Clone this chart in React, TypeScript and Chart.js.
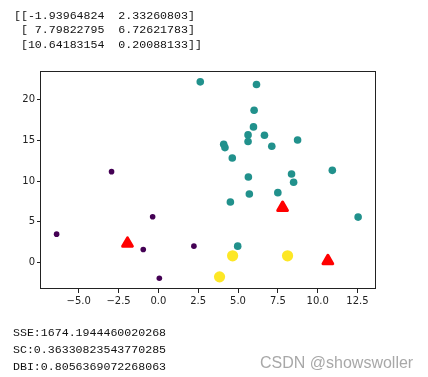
import React, { useEffect, useRef } from "react";
import { Chart, registerables } from "chart.js";

Chart.register(...registerables);

const centerLines = [
  "[[-1.93964824  2.33260803]",
  " [ 7.79822795  6.72621783]",
  " [10.64183154  0.20088133]]",
];
const metricLines = [
  "SSE:1674.1944460020268",
  "SC:0.36330823543770285",
  "DBI:0.8056369072268063",
];

const cluster0X = [-6.39, -2.94, -0.36, -0.95, 2.23, 0.06];
const cluster0Y = [3.48, 11.15, 5.61, 1.6, 2.01, -1.93];

const cluster1X = [2.63, 6.16, 6.01, 5.97, 5.63, 5.63, 6.66, 8.74, 4.1, 4.18, 7.12, 4.64, 5.65, 8.36, 8.49, 10.92, 7.5, 5.71, 4.52, 12.54, 4.98];
const cluster1Y = [22.17, 21.84, 18.69, 16.64, 15.66, 14.84, 15.61, 15.04, 14.51, 14.1, 14.26, 12.83, 10.49, 10.86, 9.84, 11.31, 8.57, 8.4, 7.42, 5.57, 2.01];

const cluster2X = [4.66, 8.11, 3.84];
const cluster2Y = [0.82, 0.82, -1.76];

const centroidX = [-1.93964824, 7.79822795, 10.64183154];
const centroidY = [2.33260803, 6.72621783, 0.20088133];

const xTicks = [-5, -2.5, 0, 2.5, 5, 7.5, 10, 12.5];
const yTicks = [0, 5, 10, 15, 20];

const pts = (xs: number[], ys: number[]) => xs.map((x, i) => ({ x, y: ys[i] }));

const framePlugin = {
  id: "frame",
  beforeDatasetsDraw(chart: any) {
    chart.ctx.lineJoin = "round";
  },
  afterDraw(chart: any) {
    const { ctx, chartArea } = chart;
    ctx.save();
    ctx.strokeStyle = "#222";
    ctx.lineWidth = 1;
    ctx.lineJoin = "miter";
    const l = Math.round(chartArea.left) - 0.5;
    const t = Math.round(chartArea.top) + 0.5;
    const r = Math.round(chartArea.right) + 0.5;
    const b = Math.round(chartArea.bottom) - 0.5;
    ctx.strokeRect(l, t, r - l, b - t);
    ctx.restore();
  },
};

export default function App() {
  const ref = useRef<HTMLCanvasElement | null>(null);
  useEffect(() => {
    if (!ref.current) return;
    const chart = new Chart(ref.current, {
      type: "scatter",
      data: {
        datasets: [
          {
            data: pts(centroidX, centroidY),
            pointStyle: "triangle",
            backgroundColor: "#ff0000",
            borderColor: "#ff0000",
            borderWidth: 3,
            pointRadius: 5.6,
            order: 0,
          },
          {
            data: pts(cluster0X, cluster0Y),
            backgroundColor: "#440154",
            borderColor: "#440154",
            borderWidth: 0,
            pointRadius: 2.8,
            order: 1,
          },
          {
            data: pts(cluster1X, cluster1Y),
            backgroundColor: "#21918c",
            borderColor: "#21918c",
            borderWidth: 0,
            pointRadius: 3.8,
            order: 1,
          },
          {
            data: pts(cluster2X, cluster2Y),
            backgroundColor: "#fde725",
            borderColor: "#fde725",
            borderWidth: 0,
            pointRadius: 5.6,
            order: 1,
          },
        ],
      },
      options: {
        animation: false,
        responsive: false,
        maintainAspectRatio: false,
        layout: { padding: { left: 0, right: 53, top: 71, bottom: 68 } },
        plugins: {
          legend: { display: false },
          tooltip: { enabled: false },
        },
        scales: {
          x: {
            type: "linear",
            min: -7.37,
            max: 13.6,
            afterBuildTicks: (s: any) => {
              s.ticks = xTicks.map((v) => ({ value: v }));
            },
            afterFit: (s: any) => {
              s.height = 20;
            },
            ticks: {
              autoSkip: false,
              maxRotation: 0,
              padding: 2,
              color: "#222",
              font: { family: "DejaVu Sans", size: 10 },
              callback: (v: any) => Number(v).toFixed(1).replace("-", "\u2212"),
            },
            grid: {
              drawOnChartArea: false,
              drawTicks: true,
              tickLength: 4,
              color: "#222",
            },
            border: { display: false },
          },
          y: {
            type: "linear",
            min: -3.25,
            max: 23.5,
            afterBuildTicks: (s: any) => {
              s.ticks = yTicks.map((v) => ({ value: v }));
            },
            afterFit: (s: any) => {
              s.width = 41;
            },
            ticks: {
              autoSkip: false,
              padding: 2,
              color: "#222",
              font: { family: "DejaVu Sans", size: 10 },
              callback: (v: any) => String(v),
            },
            grid: {
              drawOnChartArea: false,
              drawTicks: true,
              tickLength: 4,
              color: "#222",
            },
            border: { display: false },
          },
        },
      },
      plugins: [framePlugin],
    });
    return () => chart.destroy();
  }, []);

  const mono: React.CSSProperties = {
    position: "absolute",
    fontFamily: "'Liberation Mono', monospace",
    fontSize: "11.6px",
    whiteSpace: "pre",
    color: "#111",
    margin: 0,
  };

  return (
    <div
      style={{
        position: "absolute",
        left: 0,
        top: 0,
        width: 428,
        height: 377,
        background: "#fff",
        overflow: "hidden",
      }}
    >
      <canvas ref={ref} width={428} height={377} style={{ position: "absolute", left: 0, top: 0 }} />
      <div style={{ ...mono, left: 14, top: 8.5, lineHeight: "14.5px" }}>
        {centerLines.join("\n")}
      </div>
      <div style={{ ...mono, left: 13, top: 325, lineHeight: "16.8px" }}>
        {metricLines.join("\n")}
      </div>
      <div
        style={{
          position: "absolute",
          left: 260,
          top: 353,
          fontFamily: "'Liberation Sans', Arial, sans-serif",
          fontSize: "16px",
          lineHeight: "20px",
          color: "#a8a8a8",
          whiteSpace: "pre",
        }}
      >
        CSDN @showswoller
      </div>
    </div>
  );
}
